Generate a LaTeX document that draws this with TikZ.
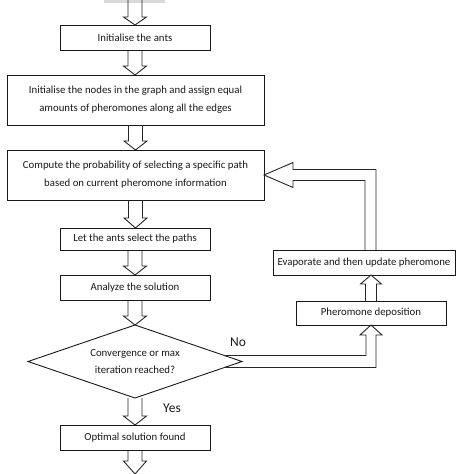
\documentclass[tikz,border=0pt]{standalone}
\usepackage{fontspec}
\setmainfont{Carlito}
\usetikzlibrary{shapes.geometric,calc}
\tikzset{
  box/.style={draw=black!90, line width=0.9pt, rectangle, inner sep=0pt, outer sep=0pt,
    align=center, font=\fontsize{10.8}{18}\selectfont, text=black!90},
  dia/.style={draw=black!90, line width=0.9pt, diamond, aspect=2.93, inner sep=0pt, outer sep=0pt,
    align=center, font=\fontsize{10.8}{17}\selectfont, text=black!90},
  blk/.style={draw=black!85, line width=0.9pt, line join=miter},
  lbl/.style={font=\fontsize{13.5}{16}\selectfont, text=black!90}
}
\newcommand\vblk[5]{\draw[blk] let \p1=(#1), \p2=(#2) in
  (\x1-#3,\y1) -- (\x1-#3,\y2+#5) -- (\x1-#4,\y2+#5) -- (\x1,\y2) --
  (\x1+#4,\y2+#5) -- (\x1+#3,\y2+#5) -- (\x1+#3,\y1);}
\begin{document}
\begin{tikzpicture}[x=1pt,y=-1pt]
\useasboundingbox (0,0) rectangle (474,474);
\fill[gray!30] (104,0) rectangle (165,2.5);
\node[box, minimum width=150pt, minimum height=25pt] (init) at (135,37.5) {Initialise the ants};
\node[box, minimum width=257pt, minimum height=50pt] (nodes) at (135.5,100) {Initialise the nodes in the graph and assign equal\\amounts of pheromones along all the edges};
\node[box, minimum width=257pt, minimum height=50pt] (comp) at (135.5,175) {Compute the probability of selecting a specific path\\based on current pheromone information};
\node[box, minimum width=150pt, minimum height=22pt] (let) at (135,239) {Let the ants select the paths};
\node[box, minimum width=150pt, minimum height=25pt] (anal) at (135,287.5) {Analyze the solution};
\node[dia, minimum width=214pt, minimum height=73pt] (dec) at (135,361.5) {Convergence or max\\iteration reached?};
\node[box, minimum width=150pt, minimum height=25pt] (opt) at (135,437.5) {Optimal solution found};
\node[box, minimum width=182pt, minimum height=25pt] (evap) at (364,262.5) {Evaporate and then update pheromone};
\node[box, minimum width=150pt, minimum height=24pt] (pher) at (371,313) {Pheromone deposition};
\coordinate (top) at (135,0);
\coordinate (bot) at (135,474);
\vblk{top}{init.north}{7pt}{11.5pt}{8pt}
\vblk{init.south}{nodes.north}{7pt}{11.5pt}{9pt}
\vblk{nodes.south}{comp.north}{7pt}{11.5pt}{9pt}
\vblk{comp.south}{let.north}{7pt}{11.5pt}{10pt}
\vblk{let.south}{anal.north}{7pt}{11.5pt}{9pt}
\vblk{anal.south}{dec.north}{7pt}{11.5pt}{9pt}
\vblk{dec.south}{opt.north}{7pt}{11.5pt}{9pt}
\vblk{opt.south}{bot}{7pt}{11.5pt}{13pt}
\vblk{pher.north}{evap.south}{5.5pt}{10.5pt}{-9pt}
\draw[blk] let \p1=(evap.north), \p2=(comp.east) in
  (\x1+1pt,\y1) -- (\x1+1pt,\y2-5.5pt) -- (\x2+29pt,\y2-5.5pt) -- (\x2+29pt,\y2-12.5pt) --
  (\x2,\y2) -- (\x2+29pt,\y2+12.5pt) -- (\x2+29pt,\y2+5.5pt) -- (\x1+12pt,\y2+5.5pt) -- (\x1+12pt,\y1);
\draw[blk] let \p1=(dec.east), \p2=(pher.south) in
  (\x1-17.6pt,\y1+6pt) -- (\x2-5pt,\y1+6pt) -- (\x2-5pt,\y2-10pt) -- (\x2-11pt,\y2-10pt) --
  (\x2,\y2) -- (\x2+11pt,\y2-10pt) -- (\x2+5pt,\y2-10pt) -- (\x2+5pt,\y1-6pt) -- (\x1-17.6pt,\y1-6pt);
\node[lbl] (no) at (238,342) {No};
\node[lbl] (yes) at (172,408) {Yes};
\end{tikzpicture}
\end{document}
